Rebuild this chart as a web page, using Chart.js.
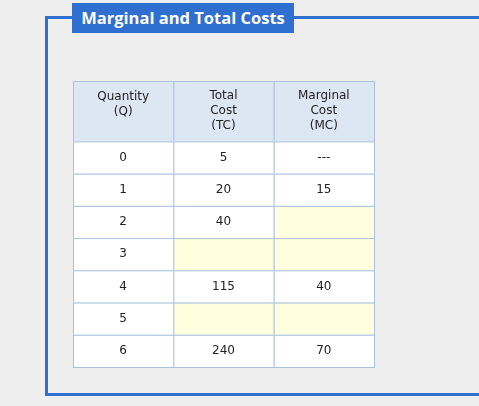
<!DOCTYPE html>
<html><head><meta charset="utf-8">
<script src="https://cdn.jsdelivr.net/npm/chart.js@4"></script>
<style>
html,body{margin:0;padding:0;background:#eeeeee;width:479px;height:406px;overflow:hidden;}
#frame{position:absolute;left:45px;top:16px;width:440px;height:374px;border:3px solid #2f6fcf;border-right:none;}
#title{position:absolute;left:72px;top:3px;width:222px;height:30px;background:#2f6fcf;color:#fff;font:bold 16.5px "Open Sans",sans-serif;line-height:30px;text-align:center;}
#wrap{position:absolute;left:0;top:0;width:479px;height:406px;}
</style></head><body>
<div id="frame"></div>
<div id="title">Marginal and Total Costs</div>
<div id="wrap"><canvas id="c" width="479" height="406"></canvas></div>
<script>
const headers = [["Quantity","(Q)"],["Total","Cost","(TC)"],["Marginal","Cost","(MC)"]];
const quantity = ["0","1","2","3","4","5","6"];
const totalCost = ["5","20","40","","115","","240"];
const marginalCost = ["---","15","","","40","","70"];
const headerRows = 1.875;

const tablePlugin = {
  id:'table',
  afterDraw(chart){
    const ctx = chart.ctx, xs = chart.scales.x, ys = chart.scales.y;
    const cols = [quantity,totalCost,marginalCost];
    ctx.save();
    ctx.font = '12px "DejaVu Sans", Verdana, sans-serif';
    ctx.textAlign='center'; ctx.textBaseline='middle';
    for(let c=0;c<3;c++){
      const x0=xs.getPixelForValue(c), x1=xs.getPixelForValue(c+1);
      const y0=ys.getPixelForValue(0), y1=ys.getPixelForValue(headerRows);
      ctx.fillStyle='#dde7f3'; ctx.fillRect(x0,y0,x1-x0,y1-y0);
      ctx.strokeStyle='#a9c1dd'; ctx.lineWidth=1; ctx.strokeRect(x0+0.5,y0+0.5,x1-x0,y1-y0);
      ctx.fillStyle='#222';
      const h=headers[c], lh=15, cy=(y0+y1)/2-(h.length-1)*lh/2 - (h.length===2?7:0);
      h.forEach((t,i)=>ctx.fillText(t,(x0+x1)/2,cy+i*lh));
      cols[c].forEach((v,r)=>{
        const a=ys.getPixelForValue(headerRows+r), b=ys.getPixelForValue(headerRows+r+1);
        ctx.fillStyle = (v===''&&c>0)?'#ffffe0':'#ffffff';
        ctx.fillRect(x0,a,x1-x0,b-a);
        ctx.strokeStyle='#a9c1dd'; ctx.strokeRect(x0+0.5,a+0.5,x1-x0,b-a);
        ctx.fillStyle='#222'; ctx.fillText(v,(x0+x1)/2,(a+b)/2);
      });
    }
    ctx.restore();
  }
};
new Chart(document.getElementById('c'),{
  type:'scatter',
  data:{datasets:[{data:[]}]},
  options:{responsive:false,animation:false,
    layout:{padding:{left:73,top:81,right:105,bottom:39}},
    plugins:{legend:{display:false},tooltip:{enabled:false}},
    scales:{x:{type:'linear',min:0,max:3,display:false},
            y:{type:'linear',min:0,max:headerRows+quantity.length,reverse:true,display:false}}},
  plugins:[tablePlugin]
});
</script></body></html>
